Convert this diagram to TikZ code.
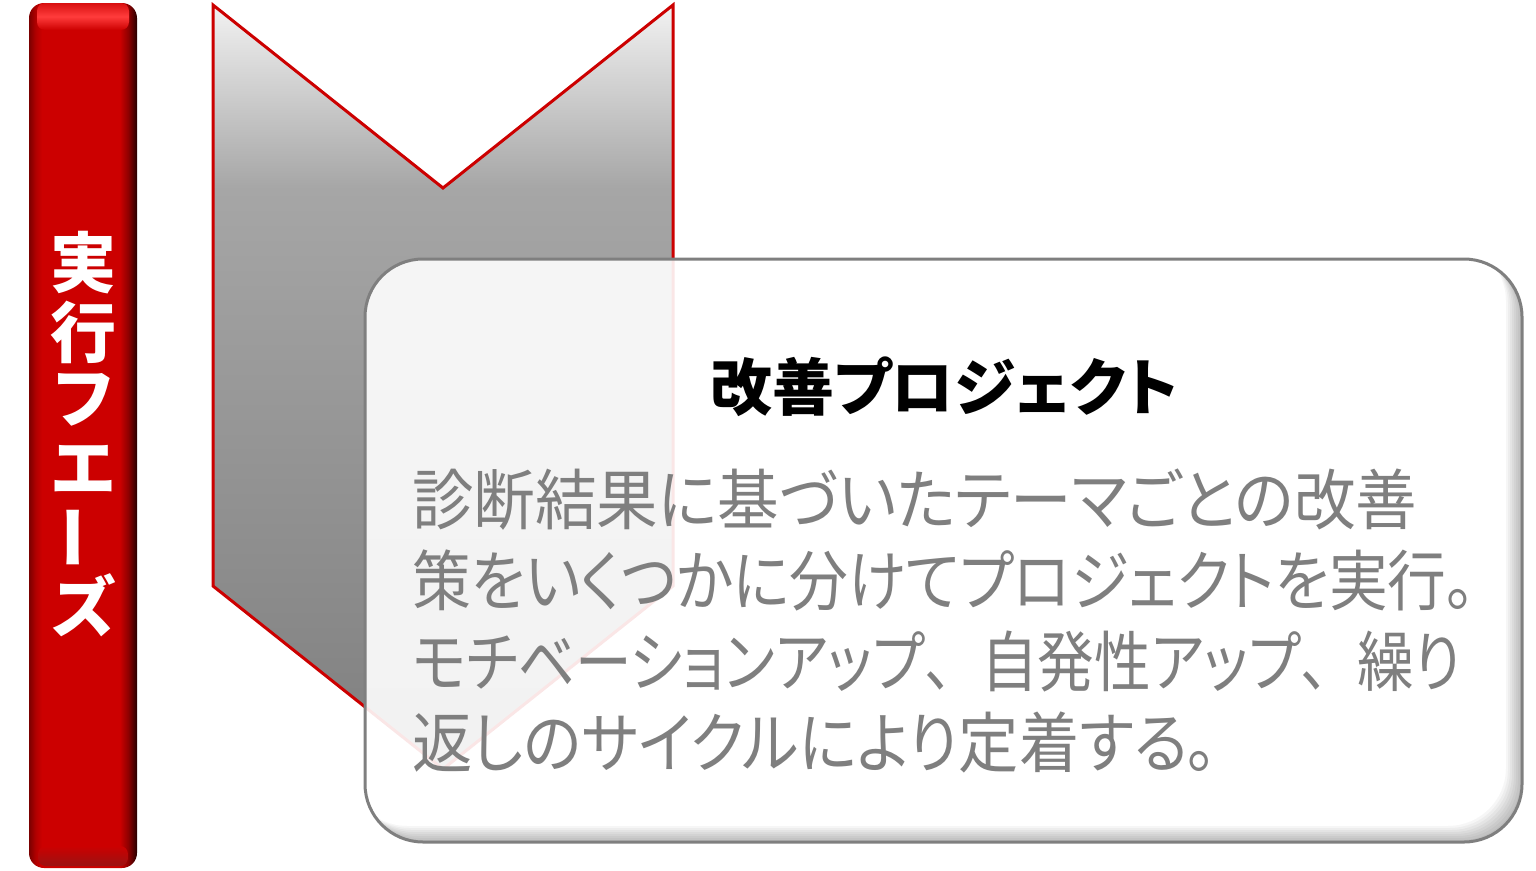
\documentclass[tikz,border=0pt]{standalone}
\usepackage{fontspec}
\usepackage{graphicx}
\newfontfamily\jp[RawFeature=+palt]{Noto Sans CJK JP}
\newfontfamily\jpfull{Noto Sans CJK JP}
\definecolor{barred}{HTML}{CC0000}
\definecolor{barleft}{HTML}{7A0000}
\definecolor{barleft2}{HTML}{B00000}
\definecolor{barright}{HTML}{8C0000}
\definecolor{barright2}{HTML}{250000}
\definecolor{hired}{HTML}{FF3C3C}
\definecolor{topred}{HTML}{D81010}
\definecolor{lowred}{HTML}{9A1212}
\definecolor{chevred}{HTML}{CC0000}
\definecolor{chevtop}{HTML}{F2F2F2}
\definecolor{chevmid}{HTML}{A6A6A6}
\definecolor{chevbot}{HTML}{7F7F7F}
\definecolor{boxline}{HTML}{7F7F7F}
\definecolor{bodygray}{HTML}{7F7F7F}
\pgfdeclarehorizontalshading{barshade}{100bp}{color(0bp)=(barleft); color(25bp)=(barleft); color(28bp)=(barleft2); color(31bp)=(barred); color(67bp)=(barred); color(71bp)=(barright); color(75bp)=(barright2); color(100bp)=(barright2)}
\pgfdeclareverticalshading{chevshade}{100bp}{color(0bp)=(chevbot); color(25bp)=(chevbot); color(63bp)=(chevmid); color(75bp)=(chevtop); color(100bp)=(chevtop)}
\pgfdeclareverticalshading{tophi}{100bp}{color(0bp)=(barred); color(25bp)=(barred); color(50bp)=(hired); color(75bp)=(topred); color(100bp)=(topred)}
\pgfdeclareverticalshading{lowband}{100bp}{color(0bp)=(lowred); color(25bp)=(lowred); color(75bp)=(barred); color(100bp)=(barred)}
\newcommand{\fitline}[2]{\resizebox{#1pt}{\height}{#2}}
\tikzset{
  bodytxt/.style={anchor=base west, inner sep=0pt, text=bodygray, font=\jp\fontsize{66pt}{66pt}\selectfont},
  titletxt/.style={anchor=center, inner sep=0pt, text=black, font=\jp\bfseries\fontsize{62pt}{62pt}\selectfont},
  vtxt/.style={anchor=center, inner sep=0pt, text=white, font=\jpfull\bfseries\fontsize{66pt}{66pt}\selectfont},
  boxshape/.style={rounded corners=58pt}
}
\begin{document}
\begin{tikzpicture}[x=1pt,y=-1pt]
\useasboundingbox (0,0) rectangle (1536,870);
% red bar
\path[rounded corners=15pt, shading=barshade] (29,3) rectangle (137,868);
\begin{scope}
  \clip[rounded corners=15pt] (29,3) rectangle (137,868);
  \path[rounded corners=8pt, shading=tophi] (37,3) rectangle (129,30);
  \path[rounded corners=8pt, shading=lowband] (38,846) rectangle (128,866);
\end{scope}
% chevron
\path[draw=chevred, line width=3pt, shading=chevshade, line join=miter]
  (213,5) -- (443,188) -- (673,5) -- (673,586) -- (443,769) -- (213,586) -- cycle;
% box
\fill[white, fill opacity=0.9, boxshape] (365,259) rectangle (1522,842);
\begin{scope}
  \clip[boxshape] (365,259) rectangle (1522,842);
  \foreach \d in {2,4,...,16} {
    \fill[black, opacity=0.035, even odd rule, boxshape]
      (365,259) rectangle (1522,842) (365-\d,259-\d) rectangle (1522-\d,842-\d);
  }
\end{scope}
\draw[boxline, line width=3pt, boxshape] (365,259) rectangle (1522,842);
% texts
\node[titletxt] (title) at (944,387) {改善プロジェクト};
\node[bodytxt] (l1) at (412,524) {\fitline{1005}{診断結果に基づいたテーマごとの改善}};
\node[bodytxt] (l2) at (412,605) {\fitline{1093}{策をいくつかに分けてプロジェクトを実行{\jpfull 。}}};
\node[bodytxt] (l3) at (412,686) {\fitline{1049}{モチベーションアップ{\jpfull 、}自発性アップ{\jpfull 、}繰り}};
\node[bodytxt] (l4) at (412,767) {\fitline{836}{返しのサイクルにより定着する{\jpfull 。}}};
% vertical label
\node[vtxt] (v0) at (83,263) {実};
\node[vtxt] (v1) at (83,332) {行};
\node[vtxt] (v2) at (83,400) {フ};
\node[vtxt] (v3) at (83,469) {エ};
\node[vtxt, rotate=90] (v4) at (83,537) {ー};
\node[vtxt] (v5) at (83,605) {ズ};
\end{tikzpicture}
\end{document}
